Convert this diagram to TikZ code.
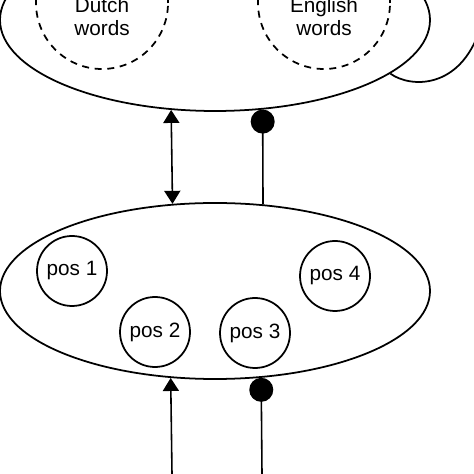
\documentclass[tikz,border=0pt]{standalone}
\usepackage{fontspec}
\setmainfont{Liberation Sans}
\usepackage{tikz}
\usetikzlibrary{arrows.meta,positioning,shapes.geometric}

\begin{document}
\begin{tikzpicture}[
  region/.style={draw, ellipse, line width=1pt, inner sep=0pt, minimum width=8.6cm},
  lang/.style={draw, circle, dash pattern=on 4pt off 3.2pt, line width=1pt, minimum size=2.64cm, inner sep=0pt},
  slot/.style={draw, circle, line width=1pt, minimum size=1.4cm, inner sep=0pt, font=\fontsize{11.8}{13.5}\selectfont},
  word/.style={align=center, font=\fontsize{11.8}{13.5}\selectfont},
  biarr/.style={{Triangle[width=0.32cm, length=0.26cm]}-{Triangle[width=0.32cm, length=0.26cm]}, line width=0.9pt},
  arr/.style={-{Triangle[width=0.32cm, length=0.26cm]}, line width=0.9pt},
  dot/.style={-{Circle[length=0.48cm]}, line width=0.9pt}
]
  \useasboundingbox (0,0) rectangle (9.48,9.48);

  % lexicon with the two word stores
  \node[region, minimum height=3.64cm] (lexicon) at (4.3,9.08) {};
  \node[lang] (dutch) at (2.04,9.42) {};
  \node[lang] (english) at (6.48,9.42) {};
  \node[word] (dutchtxt) at ([yshift=-0.27cm]dutch.center) {Dutch\\words};
  \node[word] (englishtxt) at ([yshift=-0.27cm]english.center) {English\\words};
  \draw[line width=1pt] (lexicon.343) .. controls (8.2,7.72) and (9.2,7.68) .. (9.6,8.9);

  % positions
  \node[region, minimum height=3.52cm] (order) at (4.3,3.66) {};
  \node[slot] (p1) at (1.44,4.06) {pos 1};
  \node[slot] (p2) at (3.1,2.84) {pos 2};
  \node[slot] (p3) at (5.1,2.82) {pos 3};
  \node[slot] (p4) at (6.7,3.96) {pos 4};

  \coordinate (in1) at (3.44,0);
  \coordinate (in2) at (5.24,0);

  \draw[biarr] (order.116.5) -- (lexicon.244);
  \draw[dot] (order.61.3) -- (lexicon.298);
  \draw[arr] (in1) -- (order.243.5);
  \draw[dot] (in2) -- (order.298.7);
\end{tikzpicture}
\end{document}
